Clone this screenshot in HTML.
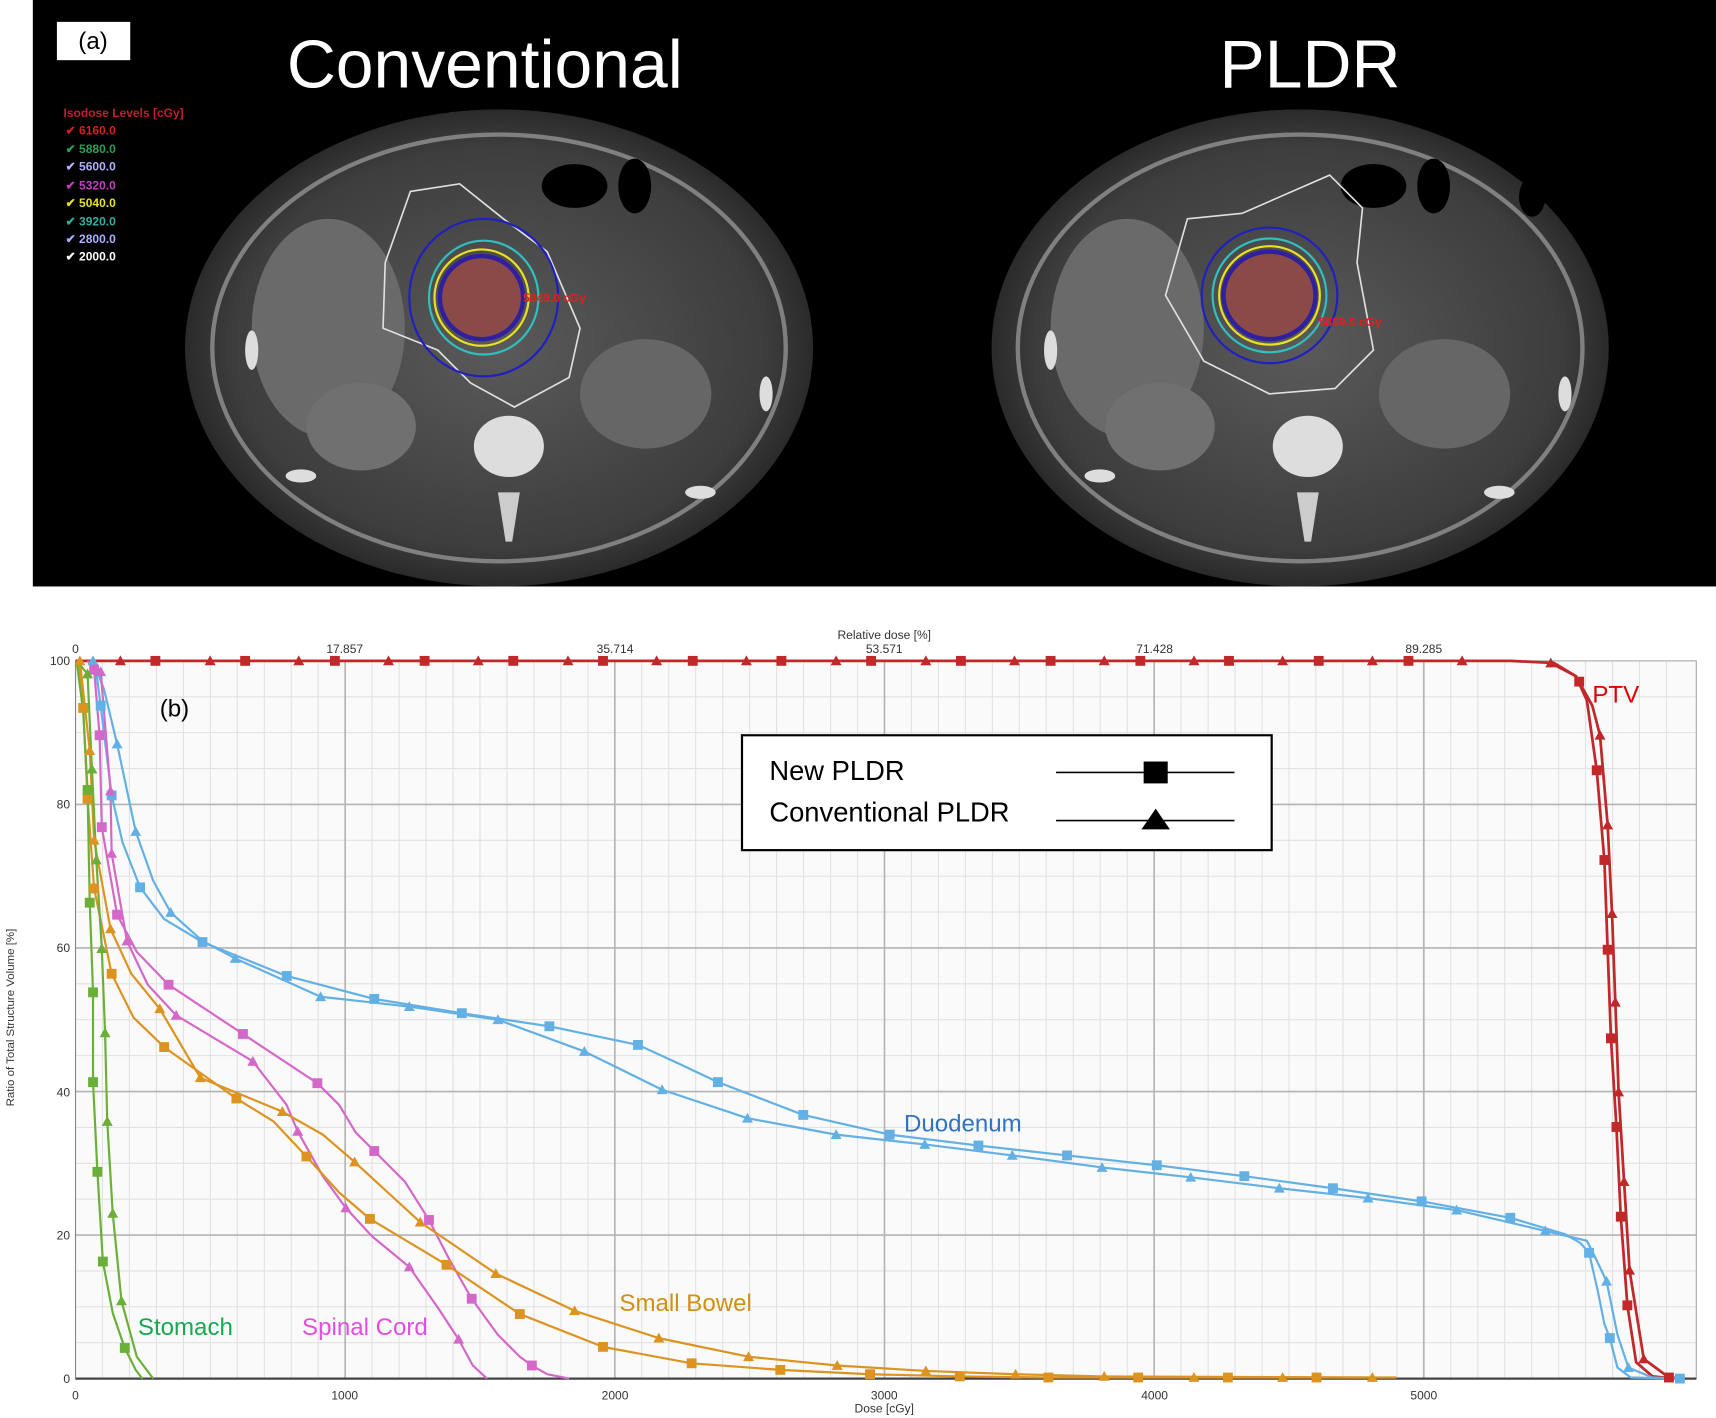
<!DOCTYPE html>
<html><head><meta charset="utf-8"><style>
html,body{margin:0;padding:0;background:#fff;}
svg{display:block;}
text{font-family:"Liberation Sans",sans-serif;}
</style></head><body>
<svg width="1716" height="1418" viewBox="0 0 1568 1296" preserveAspectRatio="none" xmlns="http://www.w3.org/2000/svg">
<defs>
<rect id="s" x="-4.5" y="-4.5" width="9" height="9"/>
<path id="t" d="M0,-5 L5,4 L-5,4 Z"/>
<radialGradient id="bodyg" cx="50%" cy="50%" r="50%"><stop offset="0" stop-color="#5a5a5a"/><stop offset="0.85" stop-color="#3d3d3d"/><stop offset="1" stop-color="#2a2a2a"/></radialGradient>
</defs>
<rect width="1568" height="1296" fill="#fff"/>
<!-- Panel a -->
<rect x="30" y="0" width="1538" height="536" fill="#000"/>
<rect x="52" y="20" width="67" height="35" fill="#fff"/>
<text x="85" y="45" font-size="22" text-anchor="middle" fill="#000">(a)</text>
<text x="443" y="80" font-size="62" text-anchor="middle" fill="#fff">Conventional</text>
<text x="1197" y="80" font-size="62" text-anchor="middle" fill="#fff">PLDR</text>
<g font-size="11" font-weight="bold">
<text x="58" y="107" fill="#c0202a">Isodose Levels [cGy]</text>
<text x="60" y="123" fill="#d02020">✔ 6160.0</text>
<text x="60" y="140" fill="#2aa050">✔ 5880.0</text>
<text x="60" y="156" fill="#b0b0ff">✔ 5600.0</text>
<text x="60" y="173" fill="#c040c0">✔ 5320.0</text>
<text x="60" y="189" fill="#e8e020">✔ 5040.0</text>
<text x="60" y="206" fill="#30b0a0">✔ 3920.0</text>
<text x="60" y="222" fill="#b0b0ff">✔ 2800.0</text>
<text x="60" y="238" fill="#fff">✔ 2000.0</text>
</g>
<!-- left CT -->
<g>
<ellipse cx="456" cy="318" rx="287" ry="218" fill="url(#bodyg)"/>
<ellipse cx="456" cy="318" rx="262" ry="195" fill="none" stroke="#808080" stroke-width="4"/>
<ellipse cx="300" cy="300" rx="70" ry="100" fill="#6a6a6a"/>
<ellipse cx="330" cy="390" rx="50" ry="40" fill="#707070"/>
<ellipse cx="590" cy="360" rx="60" ry="50" fill="#666"/>
<ellipse cx="465" cy="408" rx="32" ry="28" fill="#ddd"/>
<path d="M455,450 L475,450 L468,495 L462,495 Z" fill="#ccc"/>
<ellipse cx="230" cy="320" rx="6" ry="18" fill="#ddd"/>
<ellipse cx="700" cy="360" rx="6" ry="16" fill="#ddd"/>
<ellipse cx="275" cy="435" rx="14" ry="6" fill="#ddd"/>
<ellipse cx="640" cy="450" rx="14" ry="6" fill="#ddd"/>
<ellipse cx="525" cy="170" rx="30" ry="20" fill="#000"/>
<ellipse cx="580" cy="170" rx="15" ry="25" fill="#000"/>
<path d="M375,175 L420,168 L460,200 L500,230 L530,300 L520,345 L470,372 L430,350 L400,320 L350,300 L352,240 Z" fill="none" stroke="#e0e0e0" stroke-width="1.5"/>
<ellipse cx="442" cy="272" rx="68" ry="72" fill="none" stroke="#2020c0" stroke-width="2"/>
<ellipse cx="442" cy="272" rx="50" ry="52" fill="none" stroke="#30c0c0" stroke-width="2"/>
<ellipse cx="440" cy="272" rx="43" ry="44" fill="none" stroke="#e8e020" stroke-width="2"/>
<ellipse cx="440" cy="272" rx="38" ry="38" fill="#8a4a48" stroke="#3020a0" stroke-width="4"/>
<text x="478" y="276" font-size="11" fill="#e02020" font-weight="bold">5849.0 cGy</text>
</g>
<!-- right CT -->
<g>
<ellipse cx="1188" cy="318" rx="282" ry="218" fill="url(#bodyg)"/>
<ellipse cx="1188" cy="318" rx="258" ry="195" fill="none" stroke="#808080" stroke-width="4"/>
<ellipse cx="1030" cy="300" rx="70" ry="100" fill="#6a6a6a"/>
<ellipse cx="1060" cy="390" rx="50" ry="40" fill="#707070"/>
<ellipse cx="1320" cy="360" rx="60" ry="50" fill="#666"/>
<ellipse cx="1195" cy="408" rx="32" ry="28" fill="#ddd"/>
<path d="M1185,450 L1205,450 L1198,495 L1192,495 Z" fill="#ccc"/>
<ellipse cx="960" cy="320" rx="6" ry="18" fill="#ddd"/>
<ellipse cx="1430" cy="360" rx="6" ry="16" fill="#ddd"/>
<ellipse cx="1005" cy="435" rx="14" ry="6" fill="#ddd"/>
<ellipse cx="1370" cy="450" rx="14" ry="6" fill="#ddd"/>
<ellipse cx="1255" cy="170" rx="30" ry="20" fill="#000"/>
<ellipse cx="1310" cy="170" rx="15" ry="25" fill="#000"/>
<ellipse cx="1400" cy="180" rx="12" ry="18" fill="#000"/>
<path d="M1085,200 L1135,195 L1215,160 L1245,190 L1240,240 L1255,320 L1220,355 L1160,360 L1100,330 L1065,270 Z" fill="none" stroke="#e0e0e0" stroke-width="1.5"/>
<ellipse cx="1160" cy="270" rx="62" ry="62" fill="none" stroke="#2020c0" stroke-width="2"/>
<ellipse cx="1160" cy="270" rx="52" ry="52" fill="none" stroke="#30c0c0" stroke-width="2"/>
<ellipse cx="1160" cy="270" rx="46" ry="45" fill="none" stroke="#e8e020" stroke-width="2"/>
<ellipse cx="1160" cy="270" rx="42" ry="40" fill="#8a4a48" stroke="#3020a0" stroke-width="4"/>
<text x="1205" y="298" font-size="11" fill="#e02020" font-weight="bold">5869.5 cGy</text>
</g>
<!-- Panel b plot area -->
<rect x="69" y="604" width="1481" height="656" fill="#fafafa"/>
<g stroke="#e2e2e2" stroke-width="1">
<path d="M93.6,604V1260M118.3,604V1260M142.9,604V1260M167.6,604V1260M192.2,604V1260M216.8,604V1260M241.5,604V1260M266.1,604V1260M290.8,604V1260
M340,604V1260M364.7,604V1260M389.3,604V1260M414,604V1260M438.6,604V1260M463.2,604V1260M487.9,604V1260M512.5,604V1260M537.2,604V1260
M586.4,604V1260M611.1,604V1260M635.7,604V1260M660.4,604V1260M685,604V1260M709.6,604V1260M734.3,604V1260M758.9,604V1260M783.6,604V1260
M832.8,604V1260M857.5,604V1260M882.1,604V1260M906.8,604V1260M931.4,604V1260M956,604V1260M980.7,604V1260M1005.3,604V1260M1030,604V1260
M1079.2,604V1260M1103.9,604V1260M1128.5,604V1260M1153.2,604V1260M1177.8,604V1260M1202.4,604V1260M1227.1,604V1260M1251.7,604V1260M1276.4,604V1260
M1325.6,604V1260M1350.3,604V1260M1374.9,604V1260M1399.6,604V1260M1424.2,604V1260M1448.8,604V1260M1473.5,604V1260M1498.1,604V1260M1522.8,604V1260"/>
<path d="M69,636.8H1550M69,669.6H1550M69,702.4H1550M69,768H1550M69,800.8H1550M69,833.6H1550M69,899.2H1550M69,932H1550M69,964.8H1550M69,1030.4H1550M69,1063.2H1550M69,1096H1550M69,1161.6H1550M69,1194.4H1550M69,1227.2H1550"/>
</g>
<g stroke="#b4b4b4" stroke-width="1.5">
<path d="M315.4,604V1260M561.8,604V1260M808.2,604V1260M1054.6,604V1260M1301,604V1260"/>
<path d="M69,735.2H1550M69,866.4H1550M69,997.6H1550M69,1128.8H1550"/>
</g>
<rect x="69" y="604" width="1481" height="656" fill="none" stroke="#aaa" stroke-width="1"/>
<line x1="69" y1="1260" x2="1550" y2="1260" stroke="#444" stroke-width="2"/>
<line x1="69" y1="604" x2="69" y2="1260" stroke="#888" stroke-width="1"/>
<g font-size="11" fill="#333">
<g text-anchor="end">
<text x="64" y="608">100</text><text x="64" y="739">80</text><text x="64" y="870">60</text><text x="64" y="1002">40</text><text x="64" y="1133">20</text><text x="64" y="1264">0</text>
</g>
<g text-anchor="middle">
<text x="69" y="1279">0</text><text x="315" y="1279">1000</text><text x="562" y="1279">2000</text><text x="808" y="1279">3000</text><text x="1055" y="1279">4000</text><text x="1301" y="1279">5000</text>
<text x="808" y="1291">Dose [cGy]</text>
<text x="808" y="584">Relative dose [%]</text>
<text x="69" y="597">0</text><text x="315" y="597">17.857</text><text x="562" y="597">35.714</text><text x="808" y="597">53.571</text><text x="1055" y="597">71.428</text><text x="1301" y="597">89.285</text>
</g>
<text transform="translate(13,930) rotate(-90)" text-anchor="middle" font-size="10.5">Ratio of Total Structure Volume [%]</text>
</g>
<text x="146" y="655" font-size="22" fill="#000">(b)</text>
<!-- Curves -->
<g fill="none" stroke-width="2" stroke-linejoin="round">
<!-- PTV -->
<polyline stroke="#c0282a" stroke-width="2.5" points="69,604 1380,604 1420,606 1440,618 1450,640 1459,704 1466,786 1469,868 1472,949 1477,1030 1481,1112 1487,1193 1495,1245 1510,1258 1530,1260"/>
<polyline stroke="#c0282a" stroke-width="2.5" points="1417,606 1440,618 1455,645 1462,672 1469,754 1473,835 1476,916 1479,998 1484,1080 1489,1161 1502,1242 1525,1259 1540,1260"/>
<!-- Duodenum -->
<polyline stroke="#63b0e4" points="84,604 88,615 92,645 102,727 112,770 128,811 150,840 185,861 262,892 342,913 422,926 502,938 583,955 620,972 656,989 734,1019 813,1037 894,1047 975,1056 1057,1065 1137,1075 1218,1086 1299,1098 1380,1113 1430,1128 1444,1136 1452,1145 1460,1180 1466,1210 1471,1223 1478,1250 1490,1259 1535,1260"/>
<polyline stroke="#63b0e4" points="85,604 95,630 107,680 124,760 140,805 156,834 185,860 215,876 293,911 374,920 455,932 534,961 605,996 683,1022 764,1037 845,1046 925,1056 1007,1067 1088,1076 1169,1086 1250,1095 1331,1106 1412,1125 1450,1134 1458,1150 1468,1171 1478,1220 1488,1250 1510,1259 1535,1260"/>
<!-- Spinal cord -->
<polyline stroke="#d468c8" points="80,604 86,612 91,672 93,756 107,836 125,870 154,900 222,945 290,990 310,1010 325,1035 342,1052 370,1080 392,1115 410,1150 431,1187 455,1220 475,1240 486,1248 500,1256 520,1260"/>
<polyline stroke="#d468c8" points="84,604 92,614 101,723 102,780 116,860 135,900 161,928 231,970 262,1010 272,1034 295,1075 316,1104 340,1130 374,1158 400,1195 419,1224 432,1248 445,1260"/>
<!-- Small bowel -->
<polyline stroke="#dc9320" points="72,604 76,647 80,730 86,812 102,890 122,930 150,957 216,1004 250,1025 280,1057 310,1090 338,1114 408,1156 475,1201 551,1231 632,1246 713,1252 795,1256 877,1258 958,1259 1276,1259"/>
<polyline stroke="#dc9320" points="73,604 82,686 86,768 101,849 120,890 146,922 183,985 258,1016 295,1037 324,1062 384,1117 453,1164 525,1198 602,1223 684,1240 765,1248 846,1253 928,1256 1009,1258 1254,1259"/>
<!-- Stomach -->
<polyline stroke="#6ab038" points="70,604 76,650 80,722 82,825 85,907 85,989 89,1071 94,1153 103,1200 114,1232 124,1252 130,1260"/>
<polyline stroke="#6ab038" points="70,604 80,616 84,703 88,786 93,867 96,944 98,1025 103,1109 111,1189 125,1240 140,1260"/>
</g>
<!-- markers -->
<g fill="#c0282a">
<use href="#s" x="142" y="604"/><use href="#s" x="224" y="604"/><use href="#s" x="306" y="604"/><use href="#s" x="388" y="604"/><use href="#s" x="469" y="604"/><use href="#s" x="551" y="604"/><use href="#s" x="633" y="604"/><use href="#s" x="714" y="604"/><use href="#s" x="796" y="604"/><use href="#s" x="878" y="604"/><use href="#s" x="960" y="604"/><use href="#s" x="1042" y="604"/><use href="#s" x="1123" y="604"/><use href="#s" x="1205" y="604"/><use href="#s" x="1287" y="604"/>
<use href="#s" x="1443" y="623"/><use href="#s" x="1459" y="704"/><use href="#s" x="1466" y="786"/><use href="#s" x="1469" y="868"/><use href="#s" x="1472" y="949"/><use href="#s" x="1477" y="1030"/><use href="#s" x="1481" y="1112"/><use href="#s" x="1487" y="1193"/><use href="#s" x="1525" y="1259"/>
<use href="#t" x="110" y="604"/><use href="#t" x="192" y="604"/><use href="#t" x="273" y="604"/><use href="#t" x="355" y="604"/><use href="#t" x="437" y="604"/><use href="#t" x="519" y="604"/><use href="#t" x="600" y="604"/><use href="#t" x="682" y="604"/><use href="#t" x="764" y="604"/><use href="#t" x="846" y="604"/><use href="#t" x="927" y="604"/><use href="#t" x="1009" y="604"/><use href="#t" x="1091" y="604"/><use href="#t" x="1172" y="604"/><use href="#t" x="1254" y="604"/><use href="#t" x="1336" y="604"/><use href="#t" x="1417" y="606"/>
<use href="#t" x="1462" y="672"/><use href="#t" x="1469" y="754"/><use href="#t" x="1473" y="835"/><use href="#t" x="1476" y="916"/><use href="#t" x="1479" y="998"/><use href="#t" x="1484" y="1080"/><use href="#t" x="1489" y="1161"/><use href="#t" x="1502" y="1242"/>
</g>
<g fill="#63b0e4">
<use href="#s" x="92" y="645"/><use href="#s" x="102" y="727"/><use href="#s" x="128" y="811"/><use href="#s" x="185" y="861"/><use href="#s" x="262" y="892"/><use href="#s" x="342" y="913"/><use href="#s" x="422" y="926"/><use href="#s" x="502" y="938"/><use href="#s" x="583" y="955"/><use href="#s" x="656" y="989"/><use href="#s" x="734" y="1019"/><use href="#s" x="813" y="1037"/><use href="#s" x="894" y="1047"/><use href="#s" x="975" y="1056"/><use href="#s" x="1057" y="1065"/><use href="#s" x="1137" y="1075"/><use href="#s" x="1218" y="1086"/><use href="#s" x="1299" y="1098"/><use href="#s" x="1380" y="1113"/><use href="#s" x="1452" y="1145"/><use href="#s" x="1471" y="1223"/><use href="#s" x="1535" y="1260"/>
<use href="#t" x="85" y="604"/><use href="#t" x="107" y="680"/><use href="#t" x="124" y="760"/><use href="#t" x="156" y="834"/><use href="#t" x="215" y="876"/><use href="#t" x="293" y="911"/><use href="#t" x="374" y="920"/><use href="#t" x="455" y="932"/><use href="#t" x="534" y="961"/><use href="#t" x="605" y="996"/><use href="#t" x="683" y="1022"/><use href="#t" x="764" y="1037"/><use href="#t" x="845" y="1046"/><use href="#t" x="925" y="1056"/><use href="#t" x="1007" y="1067"/><use href="#t" x="1088" y="1076"/><use href="#t" x="1169" y="1086"/><use href="#t" x="1250" y="1095"/><use href="#t" x="1331" y="1106"/><use href="#t" x="1412" y="1125"/><use href="#t" x="1468" y="1171"/><use href="#t" x="1488" y="1250"/>
</g>
<g fill="#d468c8">
<use href="#s" x="86" y="612"/><use href="#s" x="91" y="672"/><use href="#s" x="93" y="756"/><use href="#s" x="107" y="836"/><use href="#s" x="154" y="900"/><use href="#s" x="222" y="945"/><use href="#s" x="290" y="990"/><use href="#s" x="342" y="1052"/><use href="#s" x="392" y="1115"/><use href="#s" x="431" y="1187"/><use href="#s" x="486" y="1248"/>
<use href="#t" x="92" y="614"/><use href="#t" x="101" y="723"/><use href="#t" x="102" y="780"/><use href="#t" x="116" y="860"/><use href="#t" x="161" y="928"/><use href="#t" x="231" y="970"/><use href="#t" x="272" y="1034"/><use href="#t" x="316" y="1104"/><use href="#t" x="374" y="1158"/><use href="#t" x="419" y="1224"/>
</g>
<g fill="#dc9320">
<use href="#s" x="76" y="647"/><use href="#s" x="80" y="730"/><use href="#s" x="86" y="812"/><use href="#s" x="102" y="890"/><use href="#s" x="150" y="957"/><use href="#s" x="216" y="1004"/><use href="#s" x="280" y="1057"/><use href="#s" x="338" y="1114"/><use href="#s" x="408" y="1156"/><use href="#s" x="475" y="1201"/><use href="#s" x="551" y="1231"/><use href="#s" x="632" y="1246"/><use href="#s" x="713" y="1252"/><use href="#s" x="795" y="1256"/><use href="#s" x="877" y="1258"/><use href="#s" x="958" y="1259"/><use href="#s" x="1040" y="1259"/><use href="#s" x="1122" y="1259"/><use href="#s" x="1203" y="1259"/>
<use href="#t" x="73" y="604"/><use href="#t" x="82" y="686"/><use href="#t" x="86" y="768"/><use href="#t" x="101" y="849"/><use href="#t" x="146" y="922"/><use href="#t" x="183" y="985"/><use href="#t" x="258" y="1016"/><use href="#t" x="324" y="1062"/><use href="#t" x="384" y="1117"/><use href="#t" x="453" y="1164"/><use href="#t" x="525" y="1198"/><use href="#t" x="602" y="1223"/><use href="#t" x="684" y="1240"/><use href="#t" x="765" y="1248"/><use href="#t" x="846" y="1253"/><use href="#t" x="928" y="1256"/><use href="#t" x="1009" y="1258"/><use href="#t" x="1091" y="1259"/><use href="#t" x="1172" y="1259"/><use href="#t" x="1254" y="1259"/>
</g>
<g fill="#6ab038">
<use href="#s" x="80" y="722"/><use href="#s" x="82" y="825"/><use href="#s" x="85" y="907"/><use href="#s" x="85" y="989"/><use href="#s" x="89" y="1071"/><use href="#s" x="94" y="1153"/><use href="#s" x="114" y="1232"/>
<use href="#t" x="80" y="616"/><use href="#t" x="84" y="703"/><use href="#t" x="88" y="786"/><use href="#t" x="93" y="867"/><use href="#t" x="96" y="944"/><use href="#t" x="98" y="1025"/><use href="#t" x="103" y="1109"/><use href="#t" x="111" y="1189"/>
</g>
<!-- labels -->
<g font-size="22">
<text x="1455" y="642" fill="#e00000">PTV</text>
<text x="826" y="1034" fill="#2e74c0">Duodenum</text>
<text x="566" y="1198" fill="#d09010">Small Bowel</text>
<text x="276" y="1220" fill="#e050e0">Spinal Cord</text>
<text x="126" y="1220" fill="#18a850">Stomach</text>
</g>
<!-- legend -->
<rect x="678" y="672" width="484" height="105" fill="#fff" stroke="#000" stroke-width="2"/>
<text x="703" y="713" font-size="25" fill="#000">New PLDR</text>
<text x="703" y="751" font-size="25" fill="#000">Conventional PLDR</text>
<line x1="965" y1="706" x2="1128" y2="706" stroke="#000" stroke-width="1.5"/>
<rect x="1045" y="696" width="22" height="20" fill="#000"/>
<line x1="965" y1="750" x2="1128" y2="750" stroke="#000" stroke-width="1.5"/>
<path d="M1056,739 L1069,758 L1043,758 Z" fill="#000"/>
</svg>
</body></html>
